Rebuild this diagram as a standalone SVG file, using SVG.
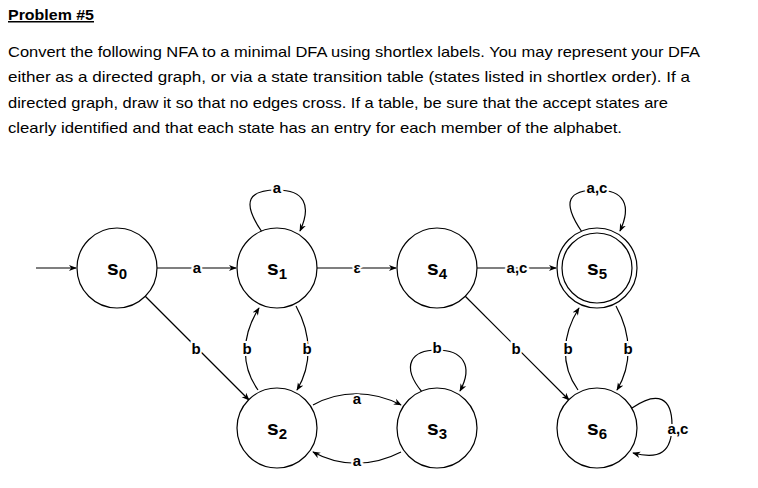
<svg xmlns="http://www.w3.org/2000/svg" width="758" height="488" viewBox="0 0 758 488">
<style>
text{font-family:"Liberation Sans",Arial,sans-serif;fill:#000}
.p{font-size:15px}
.n circle{fill:#fff;stroke:#000;stroke-width:1.2}
.n text{font-size:21px;font-weight:bold;text-anchor:middle}
.n tspan{font-size:15px}
.e path{fill:none;stroke:#000;stroke-width:1.2;marker-end:url(#ah)}
.l{font-size:15px;font-weight:bold;text-anchor:middle;stroke:#fff;stroke-width:4;paint-order:stroke}
</style>
<defs><marker id="ah" viewBox="0 0 10 10" refX="9" refY="5" markerWidth="8" markerHeight="8" orient="auto" markerUnits="userSpaceOnUse"><path d="M0,1 L10,5 L0,9 L3,5z" fill="#000"/></marker></defs>
<rect width="758" height="488" fill="#fff"/>
<text x="8" y="20" font-size="15" font-weight="bold" text-decoration="underline" textLength="86" lengthAdjust="spacingAndGlyphs">Problem #5</text>
<text class="p" x="8" y="57" textLength="692" lengthAdjust="spacingAndGlyphs">Convert the following NFA to a minimal DFA using shortlex labels. You may represent your DFA</text>
<text class="p" x="8" y="82" textLength="682" lengthAdjust="spacingAndGlyphs">either as a directed graph, or via a state transition table (states listed in shortlex order). If a</text>
<text class="p" x="8" y="108" textLength="660" lengthAdjust="spacingAndGlyphs">directed graph, draw it so that no edges cross. If a table, be sure that the accept states are</text>
<text class="p" x="8" y="133" textLength="614" lengthAdjust="spacingAndGlyphs">clearly identified and that each state has an entry for each member of the alphabet.</text>
<g class="e" id="edges">
<path d="M36,268 H76"/>
<path d="M157,268 H236"/>
<path d="M317,268 H396"/>
<path d="M477,268 H556"/>
<path d="M145,296 L249,400"/>
<path d="M465,296 L569,400"/>
<path d="M262,232 C240,200 250,190 277,190 C304,190 312,205 300,231"/>
<path d="M582,232 C560,200 570,190 597,190 C624,190 632,205 620,231"/>
<path d="M422,392 C400,365 412,350 437,350 C462,350 474,365 460,391"/>
<path d="M632,408 C658,390 672,398 672,425 C672,452 660,460 633,453"/>
<path d="M258,390 C240,365 242,335 259,308"/>
<path d="M296,306 C312,335 312,365 297,390"/>
<path d="M578,390 C560,365 562,335 579,308"/>
<path d="M616,306 C632,335 632,365 617,390"/>
<path d="M313,405 C340,390 372,390 401,405"/>
<path d="M401,452 C372,467 340,467 313,452"/>
</g>
<g class="n" id="s0"><circle cx="117" cy="268" r="40"/><text x="117" y="275">s<tspan dy="4">0</tspan></text></g>
<g class="n" id="s1"><circle cx="277" cy="268" r="40"/><text x="277" y="275">s<tspan dy="4">1</tspan></text></g>
<g class="n" id="s4"><circle cx="437" cy="268" r="40"/><text x="437" y="275">s<tspan dy="4">4</tspan></text></g>
<g class="n" id="s5"><circle cx="597" cy="268" r="40"/><circle cx="597" cy="268" r="35"/><text x="597" y="275">s<tspan dy="4">5</tspan></text></g>
<g class="n" id="s2"><circle cx="277" cy="428" r="40"/><text x="277" y="435">s<tspan dy="4">2</tspan></text></g>
<g class="n" id="s3"><circle cx="437" cy="428" r="40"/><text x="437" y="435">s<tspan dy="4">3</tspan></text></g>
<g class="n" id="s6"><circle cx="597" cy="428" r="40"/><text x="597" y="435">s<tspan dy="4">6</tspan></text></g>
<g id="labels">
<text class="l" x="197" y="273">a</text>
<text class="l" x="357" y="273">ε</text>
<text class="l" x="517" y="273">a,c</text>
<text class="l" x="277" y="193">a</text>
<text class="l" x="597" y="193">a,c</text>
<text class="l" x="437" y="353">b</text>
<text class="l" x="196" y="354">b</text>
<text class="l" x="516" y="354">b</text>
<text class="l" x="247" y="354">b</text>
<text class="l" x="307" y="354">b</text>
<text class="l" x="568" y="354">b</text>
<text class="l" x="628" y="354">b</text>
<text class="l" x="357" y="404">a</text>
<text class="l" x="357" y="466">a</text>
<text class="l" x="678" y="434">a,c</text>
</g>
</svg>
